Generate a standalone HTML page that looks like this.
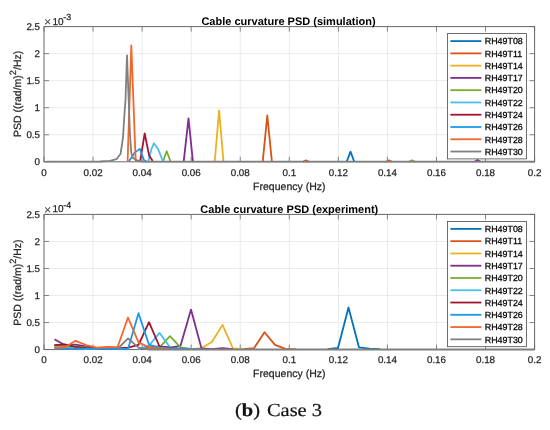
<!DOCTYPE html>
<html><head><meta charset="utf-8"><title>Cable curvature PSD</title>
<style>html,body{margin:0;padding:0;background:#fff}svg{display:block}</style></head>
<body>
<svg width="550" height="430" viewBox="0 0 550 430" text-rendering="geometricPrecision" font-family="'Liberation Sans', sans-serif">
<rect width="550" height="430" fill="#fff"/>
<line x1="93.06" y1="26.6" x2="93.06" y2="161.8" stroke="#e6e6e6" stroke-width="0.8"/>
<line x1="142.12" y1="26.6" x2="142.12" y2="161.8" stroke="#e6e6e6" stroke-width="0.8"/>
<line x1="191.18" y1="26.6" x2="191.18" y2="161.8" stroke="#e6e6e6" stroke-width="0.8"/>
<line x1="240.24" y1="26.6" x2="240.24" y2="161.8" stroke="#e6e6e6" stroke-width="0.8"/>
<line x1="289.30" y1="26.6" x2="289.30" y2="161.8" stroke="#e6e6e6" stroke-width="0.8"/>
<line x1="338.36" y1="26.6" x2="338.36" y2="161.8" stroke="#e6e6e6" stroke-width="0.8"/>
<line x1="387.42" y1="26.6" x2="387.42" y2="161.8" stroke="#e6e6e6" stroke-width="0.8"/>
<line x1="436.48" y1="26.6" x2="436.48" y2="161.8" stroke="#e6e6e6" stroke-width="0.8"/>
<line x1="485.54" y1="26.6" x2="485.54" y2="161.8" stroke="#e6e6e6" stroke-width="0.8"/>
<line x1="44.0" y1="134.76" x2="534.6" y2="134.76" stroke="#e6e6e6" stroke-width="0.8"/>
<line x1="44.0" y1="107.72" x2="534.6" y2="107.72" stroke="#e6e6e6" stroke-width="0.8"/>
<line x1="44.0" y1="80.68" x2="534.6" y2="80.68" stroke="#e6e6e6" stroke-width="0.8"/>
<line x1="44.0" y1="53.64" x2="534.6" y2="53.64" stroke="#e6e6e6" stroke-width="0.8"/>
<rect x="44.0" y="26.6" width="490.60" height="135.20" fill="none" stroke="#686868" stroke-width="1"/>
<line x1="44.00" y1="161.8" x2="44.00" y2="156.8" stroke="#686868" stroke-width="0.8"/>
<line x1="44.00" y1="26.6" x2="44.00" y2="31.6" stroke="#686868" stroke-width="0.8"/>
<text x="44.00" y="176.1" font-size="9.8" text-anchor="middle" fill="#262626" stroke="#262626" stroke-width="0.25">0</text>
<line x1="93.06" y1="161.8" x2="93.06" y2="156.8" stroke="#686868" stroke-width="0.8"/>
<line x1="93.06" y1="26.6" x2="93.06" y2="31.6" stroke="#686868" stroke-width="0.8"/>
<text x="93.06" y="176.1" font-size="9.8" text-anchor="middle" fill="#262626" stroke="#262626" stroke-width="0.25">0.02</text>
<line x1="142.12" y1="161.8" x2="142.12" y2="156.8" stroke="#686868" stroke-width="0.8"/>
<line x1="142.12" y1="26.6" x2="142.12" y2="31.6" stroke="#686868" stroke-width="0.8"/>
<text x="142.12" y="176.1" font-size="9.8" text-anchor="middle" fill="#262626" stroke="#262626" stroke-width="0.25">0.04</text>
<line x1="191.18" y1="161.8" x2="191.18" y2="156.8" stroke="#686868" stroke-width="0.8"/>
<line x1="191.18" y1="26.6" x2="191.18" y2="31.6" stroke="#686868" stroke-width="0.8"/>
<text x="191.18" y="176.1" font-size="9.8" text-anchor="middle" fill="#262626" stroke="#262626" stroke-width="0.25">0.06</text>
<line x1="240.24" y1="161.8" x2="240.24" y2="156.8" stroke="#686868" stroke-width="0.8"/>
<line x1="240.24" y1="26.6" x2="240.24" y2="31.6" stroke="#686868" stroke-width="0.8"/>
<text x="240.24" y="176.1" font-size="9.8" text-anchor="middle" fill="#262626" stroke="#262626" stroke-width="0.25">0.08</text>
<line x1="289.30" y1="161.8" x2="289.30" y2="156.8" stroke="#686868" stroke-width="0.8"/>
<line x1="289.30" y1="26.6" x2="289.30" y2="31.6" stroke="#686868" stroke-width="0.8"/>
<text x="289.30" y="176.1" font-size="9.8" text-anchor="middle" fill="#262626" stroke="#262626" stroke-width="0.25">0.1</text>
<line x1="338.36" y1="161.8" x2="338.36" y2="156.8" stroke="#686868" stroke-width="0.8"/>
<line x1="338.36" y1="26.6" x2="338.36" y2="31.6" stroke="#686868" stroke-width="0.8"/>
<text x="338.36" y="176.1" font-size="9.8" text-anchor="middle" fill="#262626" stroke="#262626" stroke-width="0.25">0.12</text>
<line x1="387.42" y1="161.8" x2="387.42" y2="156.8" stroke="#686868" stroke-width="0.8"/>
<line x1="387.42" y1="26.6" x2="387.42" y2="31.6" stroke="#686868" stroke-width="0.8"/>
<text x="387.42" y="176.1" font-size="9.8" text-anchor="middle" fill="#262626" stroke="#262626" stroke-width="0.25">0.14</text>
<line x1="436.48" y1="161.8" x2="436.48" y2="156.8" stroke="#686868" stroke-width="0.8"/>
<line x1="436.48" y1="26.6" x2="436.48" y2="31.6" stroke="#686868" stroke-width="0.8"/>
<text x="436.48" y="176.1" font-size="9.8" text-anchor="middle" fill="#262626" stroke="#262626" stroke-width="0.25">0.16</text>
<line x1="485.54" y1="161.8" x2="485.54" y2="156.8" stroke="#686868" stroke-width="0.8"/>
<line x1="485.54" y1="26.6" x2="485.54" y2="31.6" stroke="#686868" stroke-width="0.8"/>
<text x="485.54" y="176.1" font-size="9.8" text-anchor="middle" fill="#262626" stroke="#262626" stroke-width="0.25">0.18</text>
<line x1="534.60" y1="161.8" x2="534.60" y2="156.8" stroke="#686868" stroke-width="0.8"/>
<line x1="534.60" y1="26.6" x2="534.60" y2="31.6" stroke="#686868" stroke-width="0.8"/>
<text x="534.60" y="176.1" font-size="9.8" text-anchor="middle" fill="#262626" stroke="#262626" stroke-width="0.25">0.2</text>
<line x1="44.0" y1="161.80" x2="49.0" y2="161.80" stroke="#686868" stroke-width="0.8"/>
<line x1="534.6" y1="161.80" x2="529.6" y2="161.80" stroke="#686868" stroke-width="0.8"/>
<text x="40.0" y="165.3" font-size="9.8" text-anchor="end" fill="#262626" stroke="#262626" stroke-width="0.25">0</text>
<line x1="44.0" y1="134.76" x2="49.0" y2="134.76" stroke="#686868" stroke-width="0.8"/>
<line x1="534.6" y1="134.76" x2="529.6" y2="134.76" stroke="#686868" stroke-width="0.8"/>
<text x="40.0" y="138.3" font-size="9.8" text-anchor="end" fill="#262626" stroke="#262626" stroke-width="0.25">0.5</text>
<line x1="44.0" y1="107.72" x2="49.0" y2="107.72" stroke="#686868" stroke-width="0.8"/>
<line x1="534.6" y1="107.72" x2="529.6" y2="107.72" stroke="#686868" stroke-width="0.8"/>
<text x="40.0" y="111.2" font-size="9.8" text-anchor="end" fill="#262626" stroke="#262626" stroke-width="0.25">1</text>
<line x1="44.0" y1="80.68" x2="49.0" y2="80.68" stroke="#686868" stroke-width="0.8"/>
<line x1="534.6" y1="80.68" x2="529.6" y2="80.68" stroke="#686868" stroke-width="0.8"/>
<text x="40.0" y="84.2" font-size="9.8" text-anchor="end" fill="#262626" stroke="#262626" stroke-width="0.25">1.5</text>
<line x1="44.0" y1="53.64" x2="49.0" y2="53.64" stroke="#686868" stroke-width="0.8"/>
<line x1="534.6" y1="53.64" x2="529.6" y2="53.64" stroke="#686868" stroke-width="0.8"/>
<text x="40.0" y="57.1" font-size="9.8" text-anchor="end" fill="#262626" stroke="#262626" stroke-width="0.25">2</text>
<line x1="44.0" y1="26.60" x2="49.0" y2="26.60" stroke="#686868" stroke-width="0.8"/>
<line x1="534.6" y1="26.60" x2="529.6" y2="26.60" stroke="#686868" stroke-width="0.8"/>
<text x="40.0" y="30.1" font-size="9.8" text-anchor="end" fill="#262626" stroke="#262626" stroke-width="0.25">2.5</text>
<polyline points="303.0,161.7 306.0,160.3 309.0,161.7" fill="none" stroke="#D95319" stroke-width="1.8" stroke-linejoin="round"/>
<polyline points="386.0,161.7 389.0,160.3 392.0,161.7" fill="none" stroke="#D95319" stroke-width="1.8" stroke-linejoin="round"/>
<polyline points="409.0,161.7 412.0,160.2 415.0,161.7" fill="none" stroke="#77AC30" stroke-width="1.8" stroke-linejoin="round"/>
<polyline points="474.5,161.7 477.5,160.0 480.5,161.7" fill="none" stroke="#7E2F8E" stroke-width="1.8" stroke-linejoin="round"/>
<polyline points="346.7,161.7 350.5,151.6 354.3,161.7" fill="none" stroke="#0072BD" stroke-width="1.8" stroke-linejoin="round"/>
<polyline points="262.7,161.7 267.3,115.5 271.9,161.7" fill="none" stroke="#D95319" stroke-width="1.8" stroke-linejoin="round"/>
<polyline points="214.7,161.7 219.1,110.3 223.5,161.7" fill="none" stroke="#EDB120" stroke-width="1.8" stroke-linejoin="round"/>
<polyline points="183.7,161.7 188.5,118.4 192.9,161.7" fill="none" stroke="#7E2F8E" stroke-width="1.8" stroke-linejoin="round"/>
<polyline points="162.9,161.7 166.7,151.3 170.6,161.7" fill="none" stroke="#77AC30" stroke-width="1.8" stroke-linejoin="round"/>
<polyline points="148.3,161.0 151.5,148.9 154.0,143.2 158.0,148.9 162.9,161.0" fill="none" stroke="#4DBEEE" stroke-width="1.8" stroke-linejoin="round"/>
<polyline points="140.1,161.7 144.7,133.4 149.1,155.4 152.7,161.0" fill="none" stroke="#A2142F" stroke-width="1.8" stroke-linejoin="round"/>
<polyline points="128.7,161.7 134.4,152.9 139.8,148.9 144.2,160.5 147.0,161.7" fill="none" stroke="#1E96EA" stroke-width="1.8" stroke-linejoin="round"/>
<polyline points="127.6,161.7 131.3,45.3 135.7,161.7" fill="none" stroke="#F4662A" stroke-width="1.8" stroke-linejoin="round"/>
<polyline points="46.5,161.7 100.0,161.5 110.0,160.8 116.5,159.2 120.6,153.7 123.0,137.5 124.3,116.3 125.5,100.0 127.0,55.4 128.7,100.0 129.9,132.6 131.2,152.0 132.8,157.8 136.9,160.5 142.0,161.5 534.6,161.7" fill="none" stroke="#808080" stroke-width="1.8" stroke-linejoin="round"/>
<text x="288.5" y="24.9" font-size="11" font-weight="bold" text-anchor="middle" fill="#000">Cable curvature PSD (simulation)</text>
<text x="44.1" y="26.0" font-size="12.5" fill="#444">×</text><text x="52.4" y="24.5" font-size="10" fill="#262626" stroke="#262626" stroke-width="0.25">10<tspan dy="-4.5" dx="-0.2" font-size="8.8">-3</tspan></text>
<text x="289.3" y="189.8" font-size="10.5" text-anchor="middle" fill="#262626" stroke="#262626" stroke-width="0.25">Frequency (Hz)</text>
<text transform="translate(20.7,93.9) rotate(-90)" font-size="10.5" text-anchor="middle" fill="#262626" stroke="#262626" stroke-width="0.25">PSD ((rad/m)<tspan dy="-5" font-size="9.2">2</tspan><tspan dy="5">/Hz)</tspan></text>
<rect x="447.4" y="33.6" width="79.10000000000002" height="125.3" fill="#fff" stroke="#4a4a4a" stroke-width="0.8"/>
<line x1="450.4" y1="41.10" x2="481.4" y2="41.10" stroke="#0072BD" stroke-width="1.8"/>
<text x="484.8" y="44.40" font-size="8.9" fill="#000" stroke="#000" stroke-width="0.25">RH49T08</text>
<line x1="450.4" y1="53.37" x2="481.4" y2="53.37" stroke="#D95319" stroke-width="1.8"/>
<text x="484.8" y="56.67" font-size="8.9" fill="#000" stroke="#000" stroke-width="0.25">RH49T11</text>
<line x1="450.4" y1="65.64" x2="481.4" y2="65.64" stroke="#EDB120" stroke-width="1.8"/>
<text x="484.8" y="68.94" font-size="8.9" fill="#000" stroke="#000" stroke-width="0.25">RH49T14</text>
<line x1="450.4" y1="77.91" x2="481.4" y2="77.91" stroke="#7E2F8E" stroke-width="1.8"/>
<text x="484.8" y="81.21" font-size="8.9" fill="#000" stroke="#000" stroke-width="0.25">RH49T17</text>
<line x1="450.4" y1="90.18" x2="481.4" y2="90.18" stroke="#77AC30" stroke-width="1.8"/>
<text x="484.8" y="93.48" font-size="8.9" fill="#000" stroke="#000" stroke-width="0.25">RH49T20</text>
<line x1="450.4" y1="102.45" x2="481.4" y2="102.45" stroke="#4DBEEE" stroke-width="1.8"/>
<text x="484.8" y="105.75" font-size="8.9" fill="#000" stroke="#000" stroke-width="0.25">RH49T22</text>
<line x1="450.4" y1="114.72" x2="481.4" y2="114.72" stroke="#A2142F" stroke-width="1.8"/>
<text x="484.8" y="118.02" font-size="8.9" fill="#000" stroke="#000" stroke-width="0.25">RH49T24</text>
<line x1="450.4" y1="126.99" x2="481.4" y2="126.99" stroke="#1E96EA" stroke-width="1.8"/>
<text x="484.8" y="130.29" font-size="8.9" fill="#000" stroke="#000" stroke-width="0.25">RH49T26</text>
<line x1="450.4" y1="139.26" x2="481.4" y2="139.26" stroke="#F4662A" stroke-width="1.8"/>
<text x="484.8" y="142.56" font-size="8.9" fill="#000" stroke="#000" stroke-width="0.25">RH49T28</text>
<line x1="450.4" y1="151.53" x2="481.4" y2="151.53" stroke="#808080" stroke-width="1.8"/>
<text x="484.8" y="154.83" font-size="8.9" fill="#000" stroke="#000" stroke-width="0.25">RH49T30</text>
<line x1="93.06" y1="214.4" x2="93.06" y2="349.55" stroke="#e6e6e6" stroke-width="0.8"/>
<line x1="142.12" y1="214.4" x2="142.12" y2="349.55" stroke="#e6e6e6" stroke-width="0.8"/>
<line x1="191.18" y1="214.4" x2="191.18" y2="349.55" stroke="#e6e6e6" stroke-width="0.8"/>
<line x1="240.24" y1="214.4" x2="240.24" y2="349.55" stroke="#e6e6e6" stroke-width="0.8"/>
<line x1="289.30" y1="214.4" x2="289.30" y2="349.55" stroke="#e6e6e6" stroke-width="0.8"/>
<line x1="338.36" y1="214.4" x2="338.36" y2="349.55" stroke="#e6e6e6" stroke-width="0.8"/>
<line x1="387.42" y1="214.4" x2="387.42" y2="349.55" stroke="#e6e6e6" stroke-width="0.8"/>
<line x1="436.48" y1="214.4" x2="436.48" y2="349.55" stroke="#e6e6e6" stroke-width="0.8"/>
<line x1="485.54" y1="214.4" x2="485.54" y2="349.55" stroke="#e6e6e6" stroke-width="0.8"/>
<line x1="44.0" y1="322.52" x2="534.6" y2="322.52" stroke="#e6e6e6" stroke-width="0.8"/>
<line x1="44.0" y1="295.49" x2="534.6" y2="295.49" stroke="#e6e6e6" stroke-width="0.8"/>
<line x1="44.0" y1="268.46" x2="534.6" y2="268.46" stroke="#e6e6e6" stroke-width="0.8"/>
<line x1="44.0" y1="241.43" x2="534.6" y2="241.43" stroke="#e6e6e6" stroke-width="0.8"/>
<rect x="44.0" y="214.4" width="490.60" height="135.15" fill="none" stroke="#686868" stroke-width="1"/>
<line x1="44.00" y1="349.55" x2="44.00" y2="344.55" stroke="#686868" stroke-width="0.8"/>
<line x1="44.00" y1="214.4" x2="44.00" y2="219.4" stroke="#686868" stroke-width="0.8"/>
<text x="44.00" y="363.2" font-size="9.8" text-anchor="middle" fill="#262626" stroke="#262626" stroke-width="0.25">0</text>
<line x1="93.06" y1="349.55" x2="93.06" y2="344.55" stroke="#686868" stroke-width="0.8"/>
<line x1="93.06" y1="214.4" x2="93.06" y2="219.4" stroke="#686868" stroke-width="0.8"/>
<text x="93.06" y="363.2" font-size="9.8" text-anchor="middle" fill="#262626" stroke="#262626" stroke-width="0.25">0.02</text>
<line x1="142.12" y1="349.55" x2="142.12" y2="344.55" stroke="#686868" stroke-width="0.8"/>
<line x1="142.12" y1="214.4" x2="142.12" y2="219.4" stroke="#686868" stroke-width="0.8"/>
<text x="142.12" y="363.2" font-size="9.8" text-anchor="middle" fill="#262626" stroke="#262626" stroke-width="0.25">0.04</text>
<line x1="191.18" y1="349.55" x2="191.18" y2="344.55" stroke="#686868" stroke-width="0.8"/>
<line x1="191.18" y1="214.4" x2="191.18" y2="219.4" stroke="#686868" stroke-width="0.8"/>
<text x="191.18" y="363.2" font-size="9.8" text-anchor="middle" fill="#262626" stroke="#262626" stroke-width="0.25">0.06</text>
<line x1="240.24" y1="349.55" x2="240.24" y2="344.55" stroke="#686868" stroke-width="0.8"/>
<line x1="240.24" y1="214.4" x2="240.24" y2="219.4" stroke="#686868" stroke-width="0.8"/>
<text x="240.24" y="363.2" font-size="9.8" text-anchor="middle" fill="#262626" stroke="#262626" stroke-width="0.25">0.08</text>
<line x1="289.30" y1="349.55" x2="289.30" y2="344.55" stroke="#686868" stroke-width="0.8"/>
<line x1="289.30" y1="214.4" x2="289.30" y2="219.4" stroke="#686868" stroke-width="0.8"/>
<text x="289.30" y="363.2" font-size="9.8" text-anchor="middle" fill="#262626" stroke="#262626" stroke-width="0.25">0.1</text>
<line x1="338.36" y1="349.55" x2="338.36" y2="344.55" stroke="#686868" stroke-width="0.8"/>
<line x1="338.36" y1="214.4" x2="338.36" y2="219.4" stroke="#686868" stroke-width="0.8"/>
<text x="338.36" y="363.2" font-size="9.8" text-anchor="middle" fill="#262626" stroke="#262626" stroke-width="0.25">0.12</text>
<line x1="387.42" y1="349.55" x2="387.42" y2="344.55" stroke="#686868" stroke-width="0.8"/>
<line x1="387.42" y1="214.4" x2="387.42" y2="219.4" stroke="#686868" stroke-width="0.8"/>
<text x="387.42" y="363.2" font-size="9.8" text-anchor="middle" fill="#262626" stroke="#262626" stroke-width="0.25">0.14</text>
<line x1="436.48" y1="349.55" x2="436.48" y2="344.55" stroke="#686868" stroke-width="0.8"/>
<line x1="436.48" y1="214.4" x2="436.48" y2="219.4" stroke="#686868" stroke-width="0.8"/>
<text x="436.48" y="363.2" font-size="9.8" text-anchor="middle" fill="#262626" stroke="#262626" stroke-width="0.25">0.16</text>
<line x1="485.54" y1="349.55" x2="485.54" y2="344.55" stroke="#686868" stroke-width="0.8"/>
<line x1="485.54" y1="214.4" x2="485.54" y2="219.4" stroke="#686868" stroke-width="0.8"/>
<text x="485.54" y="363.2" font-size="9.8" text-anchor="middle" fill="#262626" stroke="#262626" stroke-width="0.25">0.18</text>
<line x1="534.60" y1="349.55" x2="534.60" y2="344.55" stroke="#686868" stroke-width="0.8"/>
<line x1="534.60" y1="214.4" x2="534.60" y2="219.4" stroke="#686868" stroke-width="0.8"/>
<text x="534.60" y="363.2" font-size="9.8" text-anchor="middle" fill="#262626" stroke="#262626" stroke-width="0.25">0.2</text>
<line x1="44.0" y1="349.55" x2="49.0" y2="349.55" stroke="#686868" stroke-width="0.8"/>
<line x1="534.6" y1="349.55" x2="529.6" y2="349.55" stroke="#686868" stroke-width="0.8"/>
<text x="40.0" y="353.1" font-size="9.8" text-anchor="end" fill="#262626" stroke="#262626" stroke-width="0.25">0</text>
<line x1="44.0" y1="322.52" x2="49.0" y2="322.52" stroke="#686868" stroke-width="0.8"/>
<line x1="534.6" y1="322.52" x2="529.6" y2="322.52" stroke="#686868" stroke-width="0.8"/>
<text x="40.0" y="326.0" font-size="9.8" text-anchor="end" fill="#262626" stroke="#262626" stroke-width="0.25">0.5</text>
<line x1="44.0" y1="295.49" x2="49.0" y2="295.49" stroke="#686868" stroke-width="0.8"/>
<line x1="534.6" y1="295.49" x2="529.6" y2="295.49" stroke="#686868" stroke-width="0.8"/>
<text x="40.0" y="299.0" font-size="9.8" text-anchor="end" fill="#262626" stroke="#262626" stroke-width="0.25">1</text>
<line x1="44.0" y1="268.46" x2="49.0" y2="268.46" stroke="#686868" stroke-width="0.8"/>
<line x1="534.6" y1="268.46" x2="529.6" y2="268.46" stroke="#686868" stroke-width="0.8"/>
<text x="40.0" y="272.0" font-size="9.8" text-anchor="end" fill="#262626" stroke="#262626" stroke-width="0.25">1.5</text>
<line x1="44.0" y1="241.43" x2="49.0" y2="241.43" stroke="#686868" stroke-width="0.8"/>
<line x1="534.6" y1="241.43" x2="529.6" y2="241.43" stroke="#686868" stroke-width="0.8"/>
<text x="40.0" y="244.9" font-size="9.8" text-anchor="end" fill="#262626" stroke="#262626" stroke-width="0.25">2</text>
<line x1="44.0" y1="214.40" x2="49.0" y2="214.40" stroke="#686868" stroke-width="0.8"/>
<line x1="534.6" y1="214.40" x2="529.6" y2="214.40" stroke="#686868" stroke-width="0.8"/>
<text x="40.0" y="217.9" font-size="9.8" text-anchor="end" fill="#262626" stroke="#262626" stroke-width="0.25">2.5</text>
<polyline points="54.5,344.8 65.0,346.6 75.5,347.2 86.0,347.8 96.5,348.6 107.0,349.0 117.5,349.0" fill="none" stroke="#808080" stroke-width="1.8" stroke-linejoin="round"/>
<polyline points="54.5,346.5 65.0,347.5 75.5,348.0 86.0,349.2" fill="none" stroke="#0072BD" stroke-width="1.8" stroke-linejoin="round"/>
<polyline points="327.5,349.2 338.0,348.0 348.5,307.5 359.0,347.4 369.5,348.6 380.0,349.2" fill="none" stroke="#0072BD" stroke-width="1.8" stroke-linejoin="round"/>
<polyline points="54.5,347.0 65.0,346.5 75.5,347.5 86.0,349.2" fill="none" stroke="#D95319" stroke-width="1.8" stroke-linejoin="round"/>
<polyline points="243.5,349.2 254.0,348.2 264.5,332.2 275.0,344.9 285.5,348.8 296.0,349.2" fill="none" stroke="#D95319" stroke-width="1.8" stroke-linejoin="round"/>
<polyline points="54.5,346.0 65.0,346.0 75.5,347.0 86.0,347.5 96.5,349.2" fill="none" stroke="#EDB120" stroke-width="1.8" stroke-linejoin="round"/>
<polyline points="191.0,349.2 201.5,348.2 212.0,341.8 222.5,324.9 233.0,348.5 243.5,349.2" fill="none" stroke="#EDB120" stroke-width="1.8" stroke-linejoin="round"/>
<polyline points="54.5,339.2 65.0,345.2 75.5,344.6 86.0,346.3 96.5,347.9 107.0,349.2" fill="none" stroke="#7E2F8E" stroke-width="1.8" stroke-linejoin="round"/>
<polyline points="138.5,349.2 149.0,347.3 159.5,346.5 170.0,347.6 180.5,345.8 191.0,309.6 201.5,348.4 212.0,349.2 222.5,348.2 233.0,349.2" fill="none" stroke="#7E2F8E" stroke-width="1.8" stroke-linejoin="round"/>
<polyline points="54.5,345.5 65.0,346.0 75.5,346.5 86.0,347.5 96.5,349.2" fill="none" stroke="#77AC30" stroke-width="1.8" stroke-linejoin="round"/>
<polyline points="149.0,349.2 159.5,347.3 170.0,336.1 180.5,347.3 191.0,349.2" fill="none" stroke="#77AC30" stroke-width="1.8" stroke-linejoin="round"/>
<polyline points="54.5,347.2 65.0,347.8 75.5,348.2 86.0,348.8 96.5,349.2" fill="none" stroke="#4DBEEE" stroke-width="1.8" stroke-linejoin="round"/>
<polyline points="138.5,349.2 149.0,345.6 159.5,332.9 170.0,347.3 180.5,349.2" fill="none" stroke="#4DBEEE" stroke-width="1.8" stroke-linejoin="round"/>
<polyline points="54.5,345.2 65.0,344.4 75.5,347.0 86.0,348.0 96.5,348.4 107.0,348.5 117.5,348.5 128.0,347.6 138.5,344.8 149.0,322.2 159.5,346.5 170.0,347.6 180.5,349.2" fill="none" stroke="#A2142F" stroke-width="1.8" stroke-linejoin="round"/>
<polyline points="54.5,348.3 65.0,348.5 75.5,348.6 86.0,348.7 96.5,348.8 107.0,348.9 117.5,348.9 128.0,348.9 138.5,313.2 149.0,344.8 159.5,347.3 170.0,348.3 180.5,348.5 191.0,349.0 201.5,349.2" fill="none" stroke="#1E96EA" stroke-width="1.8" stroke-linejoin="round"/>
<polyline points="54.5,348.2 65.0,347.2 75.5,340.8 86.0,345.0 96.5,347.6 107.0,347.0 117.5,347.2 128.0,317.5 138.5,342.4 149.0,347.3 159.5,348.3 170.0,349.2" fill="none" stroke="#F4662A" stroke-width="1.8" stroke-linejoin="round"/>
<polyline points="117.5,349.0 128.0,338.3 138.5,347.6 149.0,349.5 159.5,349.5 170.0,349.5 180.5,349.5 191.0,349.5 201.5,349.5 212.0,349.5 222.5,349.5 233.0,349.5 243.5,349.5 254.0,349.5 264.5,349.5 275.0,349.5 285.5,349.5 296.0,349.5 306.5,349.5 317.0,349.5 327.5,349.5 338.0,349.5 348.5,349.5 359.0,349.5 369.5,349.5 380.0,349.5 390.5,349.5 401.0,349.5 411.5,349.5 422.0,349.5 432.5,349.5 443.0,349.5 453.5,349.5 464.0,349.5 474.5,349.5 485.0,349.5 495.5,349.5 506.0,349.5 516.5,349.5 527.0,349.5 534.6,349.5" fill="none" stroke="#808080" stroke-width="1.8" stroke-linejoin="round"/>
<text x="289.3" y="212.7" font-size="11" font-weight="bold" text-anchor="middle" fill="#000">Cable curvature PSD (experiment)</text>
<text x="44.1" y="213.8" font-size="12.5" fill="#444">×</text><text x="52.4" y="212.3" font-size="10" fill="#262626" stroke="#262626" stroke-width="0.25">10<tspan dy="-4.5" dx="-0.2" font-size="8.8">-4</tspan></text>
<text x="289.3" y="376.9" font-size="10.5" text-anchor="middle" fill="#262626" stroke="#262626" stroke-width="0.25">Frequency (Hz)</text>
<text transform="translate(20.7,282.6) rotate(-90)" font-size="10.5" text-anchor="middle" fill="#262626" stroke="#262626" stroke-width="0.25">PSD ((rad/m)<tspan dy="-5" font-size="9.2">2</tspan><tspan dy="5">/Hz)</tspan></text>
<rect x="447.4" y="221.4" width="79.10000000000002" height="125.3" fill="#fff" stroke="#4a4a4a" stroke-width="0.8"/>
<line x1="450.4" y1="228.90" x2="481.4" y2="228.90" stroke="#0072BD" stroke-width="1.8"/>
<text x="484.8" y="232.20" font-size="8.9" fill="#000" stroke="#000" stroke-width="0.25">RH49T08</text>
<line x1="450.4" y1="241.17" x2="481.4" y2="241.17" stroke="#D95319" stroke-width="1.8"/>
<text x="484.8" y="244.47" font-size="8.9" fill="#000" stroke="#000" stroke-width="0.25">RH49T11</text>
<line x1="450.4" y1="253.44" x2="481.4" y2="253.44" stroke="#EDB120" stroke-width="1.8"/>
<text x="484.8" y="256.74" font-size="8.9" fill="#000" stroke="#000" stroke-width="0.25">RH49T14</text>
<line x1="450.4" y1="265.71" x2="481.4" y2="265.71" stroke="#7E2F8E" stroke-width="1.8"/>
<text x="484.8" y="269.01" font-size="8.9" fill="#000" stroke="#000" stroke-width="0.25">RH49T17</text>
<line x1="450.4" y1="277.98" x2="481.4" y2="277.98" stroke="#77AC30" stroke-width="1.8"/>
<text x="484.8" y="281.28" font-size="8.9" fill="#000" stroke="#000" stroke-width="0.25">RH49T20</text>
<line x1="450.4" y1="290.25" x2="481.4" y2="290.25" stroke="#4DBEEE" stroke-width="1.8"/>
<text x="484.8" y="293.55" font-size="8.9" fill="#000" stroke="#000" stroke-width="0.25">RH49T22</text>
<line x1="450.4" y1="302.52" x2="481.4" y2="302.52" stroke="#A2142F" stroke-width="1.8"/>
<text x="484.8" y="305.82" font-size="8.9" fill="#000" stroke="#000" stroke-width="0.25">RH49T24</text>
<line x1="450.4" y1="314.79" x2="481.4" y2="314.79" stroke="#1E96EA" stroke-width="1.8"/>
<text x="484.8" y="318.09" font-size="8.9" fill="#000" stroke="#000" stroke-width="0.25">RH49T26</text>
<line x1="450.4" y1="327.06" x2="481.4" y2="327.06" stroke="#F4662A" stroke-width="1.8"/>
<text x="484.8" y="330.36" font-size="8.9" fill="#000" stroke="#000" stroke-width="0.25">RH49T28</text>
<line x1="450.4" y1="339.33" x2="481.4" y2="339.33" stroke="#808080" stroke-width="1.8"/>
<text x="484.8" y="342.63" font-size="8.9" fill="#000" stroke="#000" stroke-width="0.25">RH49T30</text>
<text x="278.5" y="416.3" font-family="'Liberation Serif', serif" font-size="18.3" text-anchor="middle" fill="#111" stroke="#111" stroke-width="0.2" transform="translate(278.5 0) scale(1.12 1) translate(-278.5 0)">(<tspan font-weight="bold">b</tspan>) <tspan dx="1.6">Case 3</tspan></text>
</svg>
</body></html>
